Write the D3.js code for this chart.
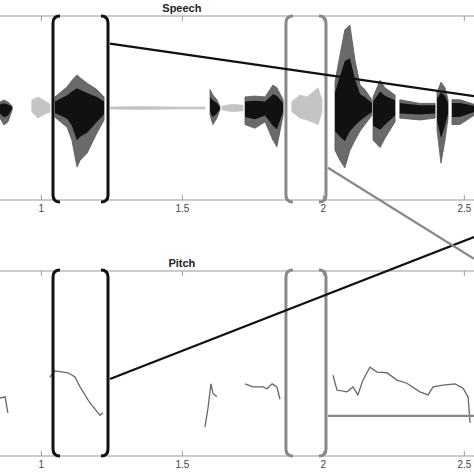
<!DOCTYPE html>
<html><head><meta charset="utf-8">
<script src="https://cdn.jsdelivr.net/npm/d3@7"></script>
<style>body{margin:0;background:#fff}svg{display:block}</style></head>
<body><svg id="c" width="474" height="474"></svg>
<script>
// time axis ticks
const ticks = [1, 1.5, 2, 2.5];
// waveform envelope segments: [time, upper, lower] (amplitude, arbitrary units) + shade
const speechSegs = [
  {shade:"dark", pts:[[0.855,6.5,-10.9],[0.869,8.7,-18.5],[0.883,6.5,-15.2],[0.898,2.2,-2.2]]},
  {shade:"light", pts:[[0.968,8.7,-4.3],[0.990,12,-10.9],[1.007,8.7,-7.6],[1.032,4.3,-4.3]]},
  {shade:"dark", pts:[[1.050,12,-10],[1.093,23,-21],[1.110,30,-35],[1.128,36,-64],[1.139,33,-57],[1.164,27,-49],[1.199,20,-27],[1.224,12,-13]]},
  {shade:"light", pts:[[1.245,1,-1],[1.351,1.5,-1.5],[1.476,1,-1],[1.582,1,-1]]},
  {shade:"dark", pts:[[1.600,20,-8],[1.610,14,-18],[1.624,9,-11],[1.635,2,-2]]},
  {shade:"light", pts:[[1.642,2,-2],[1.678,4,-4],[1.717,3,-3]]},
  {shade:"dark", pts:[[1.724,12,-18],[1.759,13,-22],[1.795,12,-15],[1.823,25,-35],[1.837,22,-42],[1.859,9,-8]]},
  {shade:"light", pts:[[1.890,7,-4],[1.919,14,-11],[1.944,12,-13],[1.983,22,-18],[1.997,9,-4]]},
  {shade:"dark", pts:[[2.043,28,-46],[2.061,58,-57],[2.078,85,-65],[2.096,90,-46],[2.114,52,-35],[2.132,25,-25],[2.149,20,-18],[2.174,9,-8]]},
  {shade:"dark", pts:[[2.178,12,-35],[2.203,30,-43],[2.220,22,-33],[2.256,14,-15]]},
  {shade:"dark", pts:[[2.273,9,-11],[2.344,5,-13],[2.398,5,-11]]},
  {shade:"dark", pts:[[2.405,17,-24],[2.419,28,-60],[2.433,22,-35],[2.444,9,-11]]},
  {shade:"dark", pts:[[2.458,9,-18],[2.486,9,-18],[2.536,4,-8]]}
];
// pitch contour segments: [time, Hz]
const pitchSegs = [
  [[0.855,144],[0.873,146],[0.883,120]],
  [[1.032,178],[1.050,188],[1.096,185],[1.121,178],[1.139,162],[1.174,136],[1.210,116],[1.220,120]],
  [[1.582,97],[1.593,129],[1.603,167],[1.610,152],[1.624,146]],
  [[1.724,167],[1.752,162],[1.788,162],[1.802,159],[1.820,167],[1.837,162],[1.848,142]],
  [[2.036,181],[2.050,157],[2.085,154],[2.107,162],[2.124,149],[2.142,173],[2.167,194],[2.192,186],[2.227,185],[2.263,173],[2.298,168],[2.344,154],[2.373,149],[2.391,162],[2.426,165],[2.469,167],[2.497,160],[2.515,146],[2.522,104]]
];
// highlighted windows [start, end]
const windows = [{t0:1.043,t1:1.238,color:"#111"},{t0:1.869,t1:2.011,color:"#888"}];

const svg = d3.select("#c");
const x = d3.scaleLinear().domain([0.855, 2.536]).range([0, 474]);
const ySp = d3.scaleLinear().domain([-100, 100]).range([200, 16]);
const yPi = d3.scaleLinear().domain([50, 350]).range([456, 271]);

function frame(top, bottom, title, labelY) {
  const g = svg.append("g");
  [top, bottom].forEach(yy => g.append("line").attr("x1",0).attr("x2",474).attr("y1",yy).attr("y2",yy).attr("stroke","#999").attr("stroke-width",1.2));
  const axB = d3.axisBottom(x).tickValues(ticks).tickSize(-5).tickFormat(d3.format("~g"));
  const gb = g.append("g").attr("transform",`translate(0,${bottom})`).call(axB);
  gb.select(".domain").remove();
  gb.selectAll("line").attr("stroke","#999");
  gb.selectAll("text").attr("fill","#444").attr("font-family","Arial, Liberation Sans").attr("font-size",10).attr("dy",labelY);
  const axT = d3.axisTop(x).tickValues(ticks).tickSize(-5).tickFormat("");
  const gt = g.append("g").attr("transform",`translate(0,${top})`).call(axT);
  gt.select(".domain").remove();
  gt.selectAll("line").attr("stroke","#999");
  g.append("text").attr("x",x(1.5)).attr("y",top-4).attr("text-anchor","middle").attr("font-family","Arial, Liberation Sans").attr("font-weight","bold").attr("font-size",11).attr("fill","#222").text(title);
}
frame(16, 200, "Speech", "0.9em");
frame(271, 456, "Pitch", "0.9em");

// waveform
const areaOuter = d3.area().x(d=>x(d[0])).y0(d=>ySp(d[2])).y1(d=>ySp(d[1]));
const areaInner = d3.area().x(d=>x(d[0])).y0(d=>ySp(d[2]*0.55)).y1(d=>ySp(d[1]*0.6));
speechSegs.forEach(s => {
  if (s.shade === "light") {
    svg.append("path").attr("d", areaOuter(s.pts)).attr("fill","#c4c4c4").attr("stroke","#c4c4c4").attr("stroke-width",0.8);
  } else {
    svg.append("path").attr("d", areaOuter(s.pts)).attr("fill","#6a6a6a").attr("stroke","#555").attr("stroke-width",0.8);
    svg.append("path").attr("d", areaInner(s.pts)).attr("fill","#111");
  }
});

// pitch
const line = d3.line().x(d=>x(d[0])).y(d=>yPi(d[1]));
pitchSegs.forEach(s => svg.append("path").attr("d", line(s)).attr("fill","none").attr("stroke","#666").attr("stroke-width",1.3));

// brackets
function bracket(xl, xr, top, bottom, color) {
  const r = 7;
  const p = d3.path();
  p.moveTo(xl + r, top); p.quadraticCurveTo(xl, top, xl, top + r); p.lineTo(xl, bottom - r); p.quadraticCurveTo(xl, bottom, xl + r, bottom);
  p.moveTo(xr - r, top); p.quadraticCurveTo(xr, top, xr, top + r); p.lineTo(xr, bottom - r); p.quadraticCurveTo(xr, bottom, xr - r, bottom);
  svg.append("path").attr("d", p.toString()).attr("fill","none").attr("stroke",color).attr("stroke-width",3);
}
windows.forEach(w => {
  bracket(x(w.t0), x(w.t1), 16, 202, w.color);
  bracket(x(w.t0), x(w.t1), 270, 456, w.color);
});

// zoom connector lines
const conn = [
  {a:[1.245, ySp(70)], b:[2.536, ySp(13)], color:"#111"},
  {a:[1.245, yPi(175)], b:[2.536, yPi(405)], color:"#111"},
  {a:[2.018, ySp(-65)], b:[2.536, ySp(-164)], color:"#888"},
  {a:[2.018, yPi(115)], b:[2.536, yPi(115)], color:"#888"}
];
conn.forEach(c => svg.append("line").attr("x1",x(c.a[0])).attr("y1",c.a[1]).attr("x2",x(c.b[0])).attr("y2",c.b[1]).attr("stroke",c.color).attr("stroke-width",2.2));
</script></body></html>
